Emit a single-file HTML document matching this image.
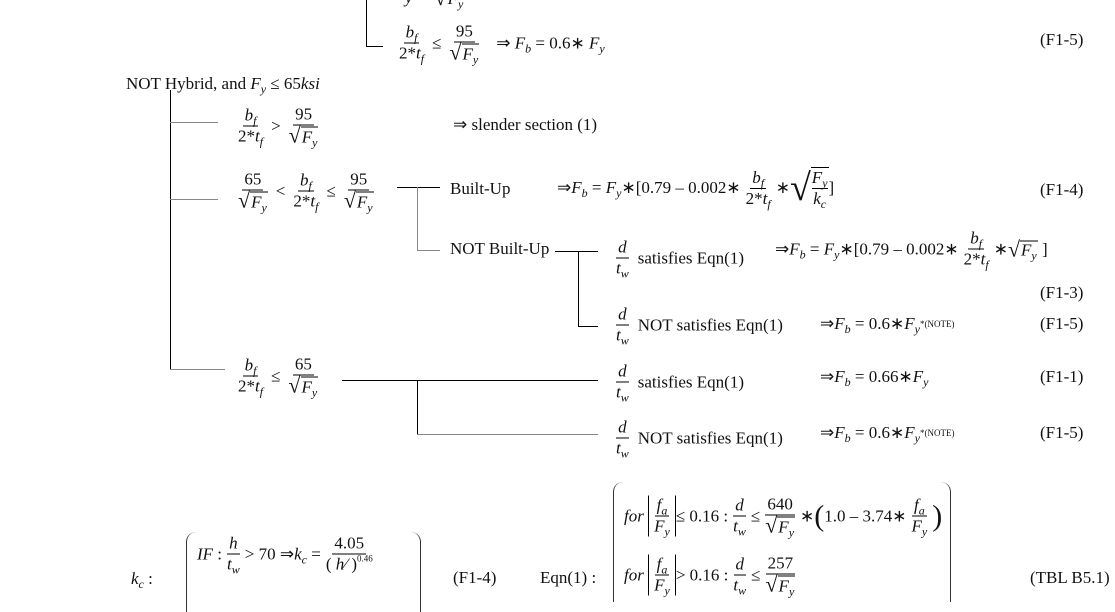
<!DOCTYPE html>
<html><head><meta charset="utf-8"><style>
html,body{margin:0;padding:0;background:#fff;}
body{width:1115px;height:585px;position:relative;overflow:hidden;font-family:"Liberation Serif",serif;font-size:17px;color:#111;}
.r{position:absolute;display:flex;align-items:center;transform:translateY(-50%);white-space:nowrap;}
.f{display:inline-flex;flex-direction:column;align-items:center;margin:0 3px;}
.f>span{line-height:20px;padding:0 2px;display:block;}
.f>span:first-child{border-bottom:1px solid #000;}
i{font-style:italic;}
sub{font-size:12px;vertical-align:-4px;line-height:0;}
sup{font-size:9px;vertical-align:8px;line-height:0;}
.sq{display:inline-flex;align-items:flex-end;}
.sq .rt{font-size:22px;line-height:20px;}
.ov{border-top:1px solid #000;line-height:18px;padding:0 1px;}
.l{position:absolute;background:#000;}
.g{position:absolute;background:#888;}
.o{margin:0 3px;}
.bp{position:absolute;border:1px solid #333;}
</style></head><body>

<!-- top fragment -->
<div class="l" style="left:366px;top:0;width:1px;height:46px"></div>
<div class="l" style="left:366px;top:46px;width:17px;height:1px"></div>
<div class="r" style="left:405px;top:-2px"><i>y</i><span style="margin-left:22px" class="sq"><span class="rt">√</span><span class="ov"><i>F</i><sub><i>y</i></sub></span></span></div>
<div class="r" style="left:394px;top:43px"><span class="f"><span><i>b<sub>f</sub></i></span><span>2*<i>t<sub>f</sub></i></span></span><span class="o">≤</span><span class="f"><span>95</span><span class="sq"><span class="rt">√</span><span class="ov"><i>F<sub>y</sub></i></span></span></span><span style="margin-left:12px">⇒ <i>F<sub>b</sub></i> = 0.6∗ <i>F<sub>y</sub></i></span></div>
<div class="r" style="left:1040px;top:40px">(F1-5)</div>

<div class="r" style="left:126px;top:84px">NOT Hybrid, and&nbsp; <i>F<sub>y</sub></i>&nbsp;≤ 65<i>ksi</i></div>
<div class="l" style="left:170px;top:90px;width:1px;height:280px"></div>
<div class="g" style="left:170px;top:122px;width:48px;height:1px"></div>
<div class="g" style="left:170px;top:199px;width:48px;height:1px"></div>
<div class="g" style="left:170px;top:369px;width:55px;height:1px"></div>

<!-- row1 -->
<div class="r" style="left:233px;top:126px"><span class="f"><span><i>b<sub>f</sub></i></span><span>2*<i>t<sub>f</sub></i></span></span><span class="o">&gt;</span><span class="f"><span>95</span><span class="sq"><span class="rt">√</span><span class="ov"><i>F<sub>y</sub></i></span></span></span></div>
<div class="r" style="left:453px;top:125px">⇒ slender section (1)</div>

<!-- row2 -->
<div class="r" style="left:233px;top:191px"><span class="f"><span>65</span><span class="sq"><span class="rt">√</span><span class="ov"><i>F<sub>y</sub></i></span></span></span><span class="o">&lt;</span><span class="f"><span><i>b<sub>f</sub></i></span><span>2*<i>t<sub>f</sub></i></span></span><span class="o">≤</span><span class="f"><span>95</span><span class="sq"><span class="rt">√</span><span class="ov"><i>F<sub>y</sub></i></span></span></span></div>
<div class="l" style="left:397px;top:187px;width:43px;height:1px"></div>
<div class="g" style="left:417px;top:187px;width:1px;height:63px"></div>
<div class="g" style="left:417px;top:250px;width:23px;height:1px"></div>
<div class="r" style="left:450px;top:189px">Built-Up</div>
<div class="r" style="left:557px;top:188px">⇒ <i>F<sub>b</sub></i>&nbsp;=&nbsp;<i>F<sub>y</sub></i>∗[0.79 – 0.002∗<span class="f"><span><i>b<sub>f</sub></i></span><span>2*<i>t<sub>f</sub></i></span></span>∗<span class="sq"><span class="rt" style="font-size:38px;line-height:42px">√</span><span class="ov" style="display:inline-flex;flex-direction:column;align-items:center"><span style="border-bottom:1px solid #000;line-height:20px"><i>F<sub>y</sub></i></span><span style="line-height:20px"><i>k<sub>c</sub></i></span></span></span>]</div>
<div class="r" style="left:1040px;top:190px">(F1-4)</div>

<div class="r" style="left:450px;top:249px">NOT Built-Up</div>
<div class="l" style="left:555px;top:251px;width:43px;height:1px"></div>
<div class="l" style="left:578px;top:251px;width:1px;height:76px"></div>
<div class="l" style="left:578px;top:326px;width:20px;height:1px"></div>

<div class="r" style="left:611px;top:258px"><span class="f"><span><i>d</i></span><span><i>t<sub>w</sub></i></span></span><span style="margin-left:4px">satisfies Eqn(1)</span></div>
<div class="r" style="left:775px;top:249px">⇒ <i>F<sub>b</sub></i>&nbsp;=&nbsp;<i>F<sub>y</sub></i>∗[0.79 – 0.002∗<span class="f"><span><i>b<sub>f</sub></i></span><span>2*<i>t<sub>f</sub></i></span></span>∗<span class="sq"><span class="rt">√</span><span class="ov"><i>F<sub>y</sub></i></span></span>&nbsp;]</div>
<div class="r" style="left:1040px;top:293px">(F1-3)</div>

<div class="r" style="left:611px;top:325px"><span class="f"><span><i>d</i></span><span><i>t<sub>w</sub></i></span></span><span style="margin-left:4px">NOT satisfies Eqn(1)</span></div>
<div class="r" style="left:820px;top:324px">⇒ <i>F<sub>b</sub></i>&nbsp;=&nbsp;0.6∗ <i>F<sub>y</sub></i><sup>*(NOTE)</sup></div>
<div class="r" style="left:1040px;top:324px">(F1-5)</div>

<!-- row3 -->
<div class="r" style="left:233px;top:376px"><span class="f"><span><i>b<sub>f</sub></i></span><span>2*<i>t<sub>f</sub></i></span></span><span class="o">≤</span><span class="f"><span>65</span><span class="sq"><span class="rt">√</span><span class="ov"><i>F<sub>y</sub></i></span></span></span></div>
<div class="l" style="left:342px;top:380px;width:256px;height:1px"></div>
<div class="l" style="left:417px;top:380px;width:1px;height:54px"></div>
<div class="g" style="left:417px;top:434px;width:181px;height:1px"></div>

<div class="r" style="left:611px;top:382px"><span class="f"><span><i>d</i></span><span><i>t<sub>w</sub></i></span></span><span style="margin-left:4px">satisfies Eqn(1)</span></div>
<div class="r" style="left:820px;top:377px">⇒ <i>F<sub>b</sub></i>&nbsp;=&nbsp;0.66∗ <i>F<sub>y</sub></i></div>
<div class="r" style="left:1040px;top:377px">(F1-1)</div>

<div class="r" style="left:611px;top:438px"><span class="f"><span><i>d</i></span><span><i>t<sub>w</sub></i></span></span><span style="margin-left:4px">NOT satisfies Eqn(1)</span></div>
<div class="r" style="left:820px;top:433px">⇒ <i>F<sub>b</sub></i>&nbsp;=&nbsp;0.6∗ <i>F<sub>y</sub></i><sup>*(NOTE)</sup></div>
<div class="r" style="left:1040px;top:433px">(F1-5)</div>

<!-- bottom -->
<div class="r" style="left:131px;top:579px"><i>k<sub>c</sub></i>&nbsp;:</div>
<div class="bp" style="left:186px;top:532px;width:10px;height:80px;border-width:0 0 0 1px;border-radius:10px 0 0 0"></div>
<div class="bp" style="left:410px;top:532px;width:10px;height:80px;border-width:0 1px 0 0;border-radius:0 10px 0 0"></div>
<div class="r" style="left:197px;top:554px"><i>IF</i>&nbsp;:<span class="f"><span><i>h</i></span><span><i>t<sub>w</sub></i></span></span>&gt; 70 ⇒ <i>k<sub>c</sub></i>&nbsp;=<span class="f"><span>4.05</span><span>(&nbsp;<i>h</i>⁄ )<sup>0.46</sup></span></span></div>
<div class="r" style="left:453px;top:578px">(F1-4)</div>
<div class="r" style="left:540px;top:578px">Eqn(1) :</div>
<div class="bp" style="left:613px;top:482px;width:10px;height:120px;border-width:0 0 0 1px;border-radius:10px 0 0 0"></div>
<div class="bp" style="left:940px;top:482px;width:10px;height:120px;border-width:0 1px 0 0;border-radius:0 10px 0 0"></div>
<div class="r" style="left:624px;top:516px"><i>for</i>&nbsp;<span style="border-left:1px solid #000;border-right:1px solid #000;display:inline-flex"><span class="f"><span><i>f<sub>a</sub></i></span><span><i>F<sub>y</sub></i></span></span></span>≤ 0.16 :<span class="f"><span><i>d</i></span><span><i>t<sub>w</sub></i></span></span>≤<span class="f"><span>640</span><span class="sq"><span class="rt">√</span><span class="ov"><i>F<sub>y</sub></i></span></span></span>∗<span style="font-size:30px">(</span>1.0 – 3.74∗<span class="f"><span><i>f<sub>a</sub></i></span><span><i>F<sub>y</sub></i></span></span><span style="font-size:30px">)</span></div>
<div class="r" style="left:624px;top:575px"><i>for</i>&nbsp;<span style="border-left:1px solid #000;border-right:1px solid #000;display:inline-flex"><span class="f"><span><i>f<sub>a</sub></i></span><span><i>F<sub>y</sub></i></span></span></span>&gt; 0.16 :<span class="f"><span><i>d</i></span><span><i>t<sub>w</sub></i></span></span>≤<span class="f"><span>257</span><span class="sq"><span class="rt">√</span><span class="ov"><i>F<sub>y</sub></i></span></span></span></div>
<div class="r" style="left:1030px;top:578px">(TBL B5.1)</div>
</body></html>
